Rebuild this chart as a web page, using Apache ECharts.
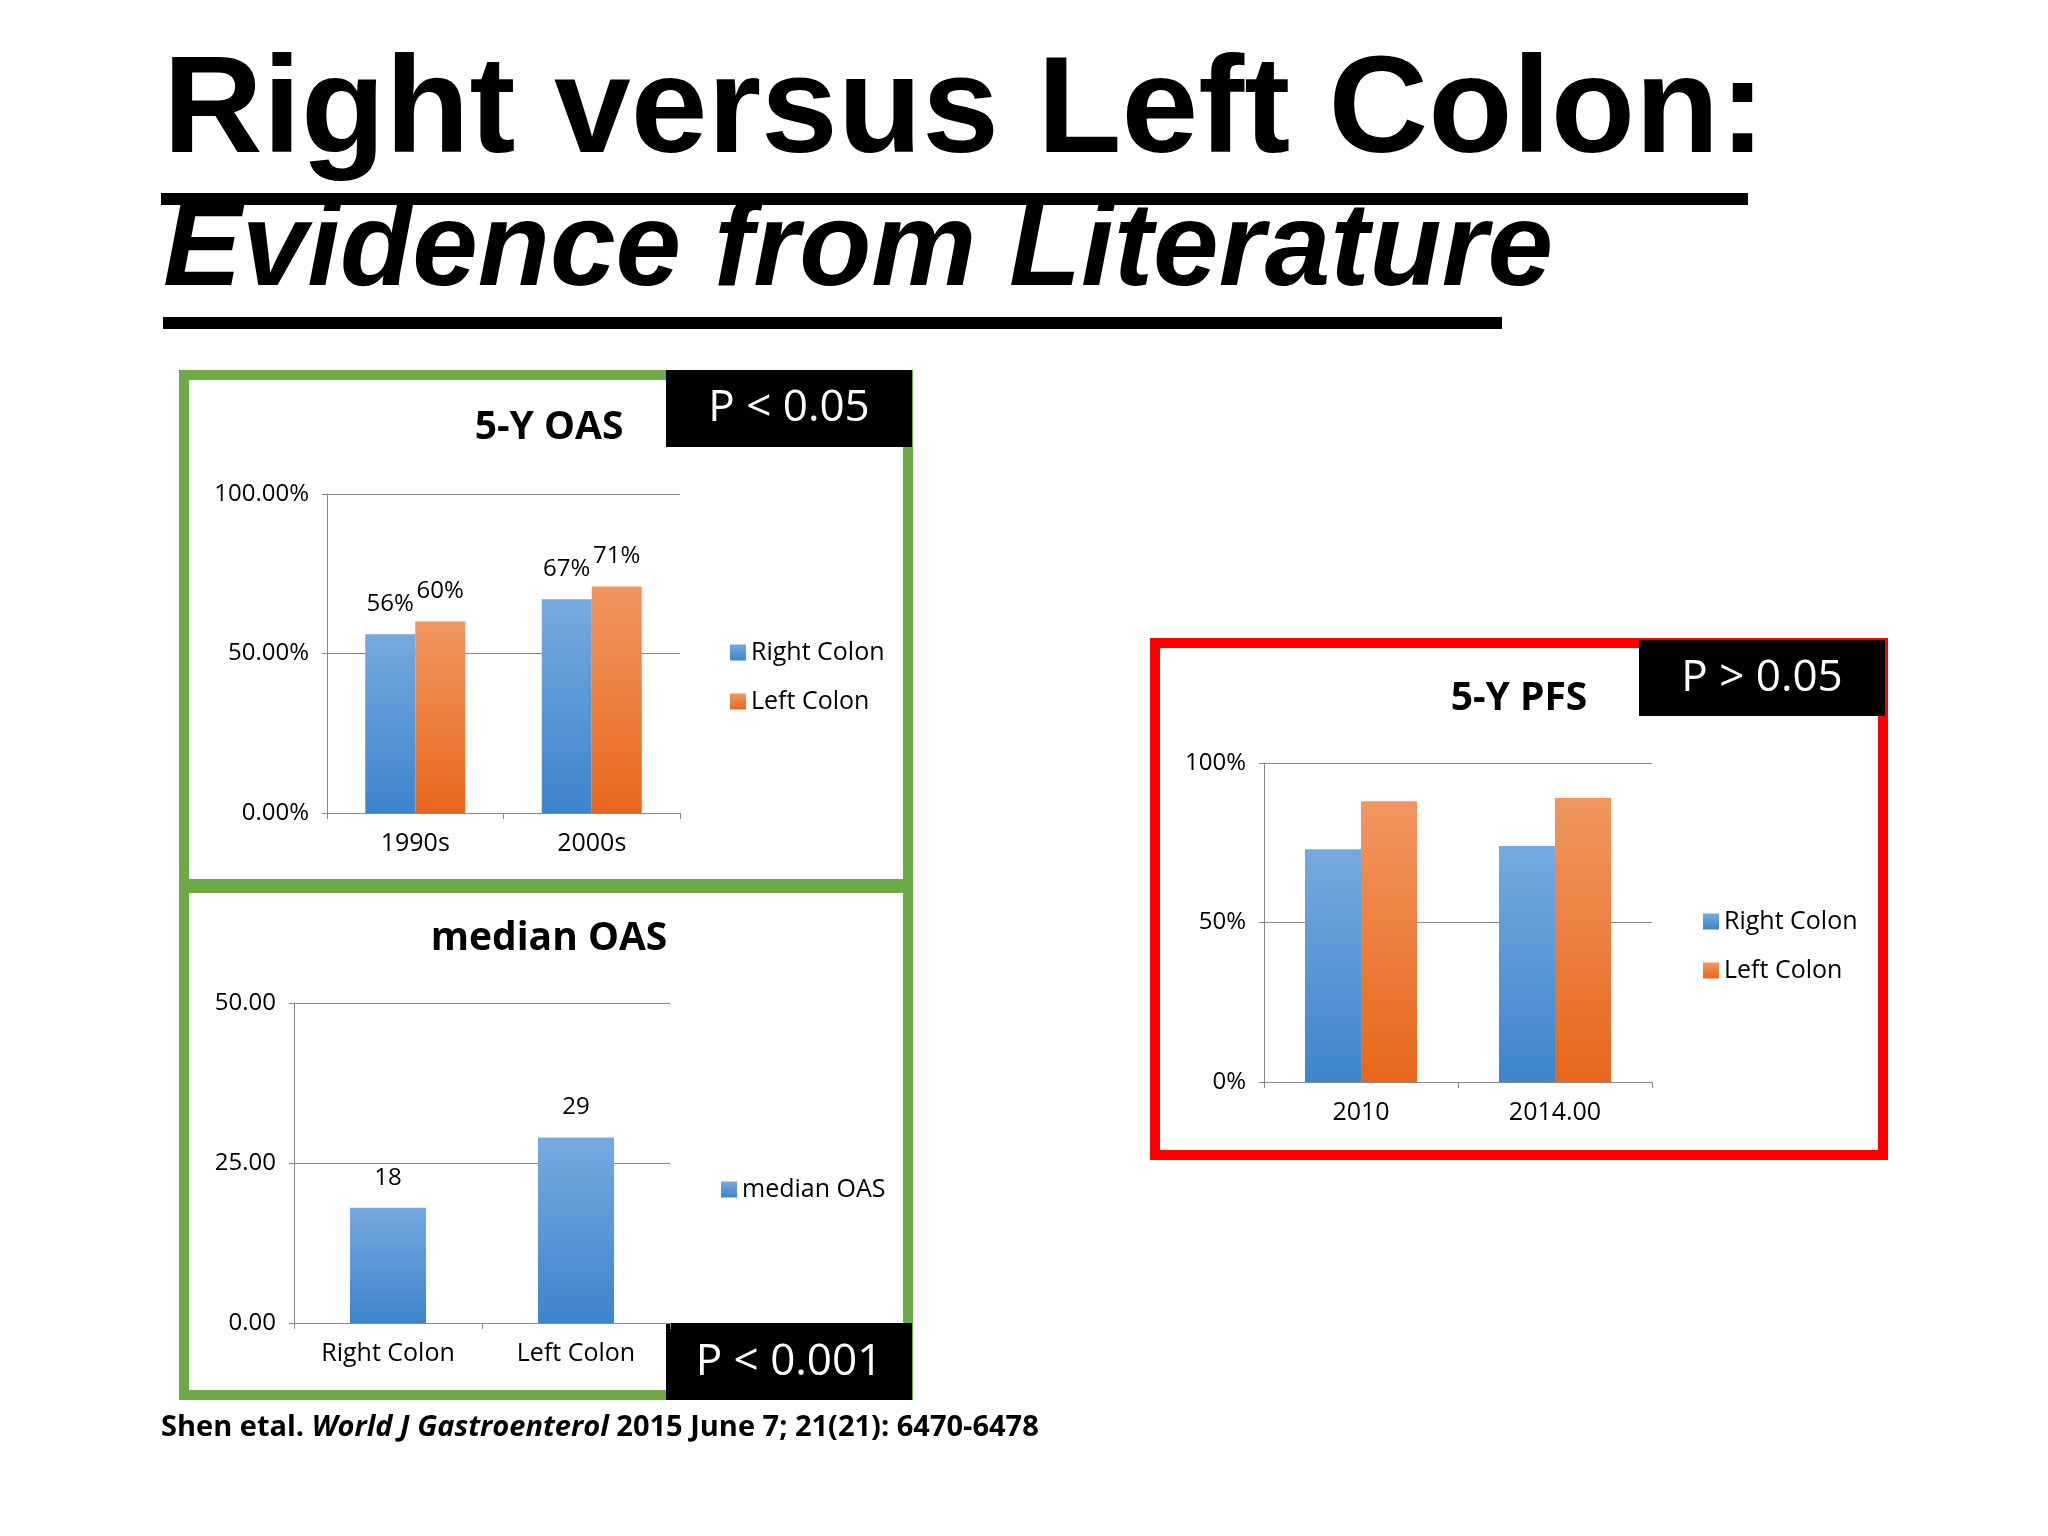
<!DOCTYPE html>
<html><head><meta charset="utf-8">
<script src="https://cdn.jsdelivr.net/npm/echarts@6/dist/echarts.min.js"></script>
<style>body{margin:0;background:#fff}#c{width:2048px;height:1536px}</style>
</head><body><div id="c"></div>
<script>
const oasCats = ['1990s', '2000s'];
const oasRight = [56, 67];
const oasLeft = [60, 71];
const medCats = ['Right Colon', 'Left Colon'];
const medVals = [18, 29];
const pfsCats = ['2010', '2014.00'];
const pfsRight = [73, 74];
const pfsLeft = [88, 89];

const s = 2048 / 1568;
function S(v) { return Math.round(v * s); }
const F = '"Open Sans", sans-serif';
const blue = new echarts.graphic.LinearGradient(0, 0, 0, 1, [{offset: 0, color: '#76a9e0'}, {offset: 1, color: '#3d85cb'}]);
const orange = new echarts.graphic.LinearGradient(0, 0, 0, 1, [{offset: 0, color: '#f19660'}, {offset: 1, color: '#e7671c'}]);

var chart = echarts.init(document.getElementById('c'));

function grid(l, r, t, b) { return {left: S(l), width: S(r - l), top: S(t), height: S(b - t)}; }
function xa(i, data) {
  return {gridIndex: i, type: 'category', data: data,
    axisLine: {lineStyle: {color: '#888'}}, axisTick: {show: true, lineStyle: {color: '#888'}, length: 6},
    axisLabel: {color: '#000', fontFamily: F, fontSize: S(19), margin: S(14)}};
}
function ya(i, max, fmt) {
  return {gridIndex: i, type: 'value', min: 0, max: max, interval: max / 2,
    axisLine: {show: true, lineStyle: {color: '#888'}}, axisTick: {show: true, lineStyle: {color: '#888'}},
    splitLine: {lineStyle: {color: '#888'}},
    axisLabel: {color: '#000', fontFamily: F, fontSize: S(18), formatter: fmt, margin: S(14)}};
}
function bar(name, data, color, i, w, lbl) {
  return {name: name, type: 'bar', xAxisIndex: i, yAxisIndex: i, data: data, barWidth: S(w), barGap: '0%',
    itemStyle: {color: color},
    label: {show: !!lbl, position: 'top', distance: S(14), color: '#000', fontFamily: F, fontSize: S(18), formatter: lbl}};
}
function legend(items, l, t) {
  return {data: items, left: S(l), top: S(t), orient: 'vertical', itemGap: S(18), itemWidth: S(12), itemHeight: S(12),
    icon: 'rect', textStyle: {fontFamily: F, fontSize: S(19), color: '#000'}};
}
function box(x1, y1, x2, y2, color) {
  return {type: 'rect', shape: {x: S(x1), y: S(y1), width: S(x2 - x1), height: S(y2 - y1)},
    style: {fill: 'none', stroke: color, lineWidth: S(8)}};
}
function tag(x1, y1, x2, y2, txt) {
  return {type: 'group', children: [
    {type: 'rect', shape: {x: S(x1), y: S(y1), width: S(x2 - x1), height: S(y2 - y1)}, style: {fill: '#000'}},
    {type: 'text', x: S((x1 + x2) / 2), y: S((y1 + y2) / 2), style: {text: txt, fill: '#fff', font: S(34) + 'px ' + F, textAlign: 'center', textVerticalAlign: 'middle'}}
  ]};
}
function txt(x, y, t, size, extra) {
  return {type: 'text', x: S(x), y: S(y), style: Object.assign({text: t, fill: '#000', font: 'bold ' + S(size) + 'px ' + F, textAlign: 'center', textVerticalAlign: 'middle'}, extra || {})};
}

var option = {
  animation: false,
  grid: [grid(250, 520, 378, 622), grid(225, 513, 768, 1013), grid(968, 1265, 584, 828)],
  xAxis: [xa(0, oasCats), xa(1, medCats), xa(2, pfsCats)],
  yAxis: [
    ya(0, 100, function (v) { return v.toFixed(2) + '%'; }),
    ya(1, 50, function (v) { return v.toFixed(2); }),
    ya(2, 100, function (v) { return v + '%'; })
  ],
  legend: [legend(['Right Colon', 'Left Colon'], 555, 486), legend(['median OAS'], 548, 897), legend(['Right Colon', 'Left Colon'], 1300, 692)],
  series: [
    bar('Right Colon', oasRight, blue, 0, 38, '{c}%'),
    bar('Left Colon', oasLeft, orange, 0, 38, '{c}%'),
    bar('median OAS', medVals, blue, 1, 58, '{c}'),
    bar('Right Colon', pfsRight, blue, 2, 43, null),
    bar('Left Colon', pfsLeft, orange, 2, 43, null)
  ],
  graphic: [
    {type: 'text', x: S(125), y: S(140), style: {text: 'Right versus Left Colon:', fill: '#000', font: 'bold ' + S(106) + 'px "Liberation Sans", Arial', textVerticalAlign: 'bottom'}},
    {type: 'rect', shape: {x: S(123), y: S(148), width: S(1215), height: S(9)}, style: {fill: '#000'}},
    {type: 'text', x: S(125), y: S(238), style: {text: 'Evidence from Literature', fill: '#000', font: 'italic bold ' + S(90) + 'px "Liberation Sans", Arial', textVerticalAlign: 'bottom'}},
    {type: 'rect', shape: {x: S(125), y: S(243), width: S(1025), height: S(9)}, style: {fill: '#000'}},
    box(141, 287, 695, 677, '#6ea947'),
    box(141, 680, 695, 1068, '#6ea947'),
    box(884, 492, 1441, 884, '#fe0000'),
    tag(510, 283, 698, 342, 'P < 0.05'),
    tag(510, 1013, 698, 1072, 'P < 0.001'),
    tag(1255, 490, 1443, 548, 'P > 0.05'),
    txt(420, 328, '5-Y OAS', 30),
    txt(420, 719, 'median OAS', 30),
    txt(1163, 535, '5-Y PFS', 30),
    {type: 'text', x: S(123), y: S(1093), style: {
      text: '{b|Shen etal. }{i|World J Gastroenterol}{b| 2015 June 7; 21(21): 6470-6478}', textVerticalAlign: 'middle',
      rich: {b: {font: 'bold ' + S(22) + 'px ' + F, fill: '#000'}, i: {font: 'italic bold ' + S(22) + 'px ' + F, fill: '#000'}}}}
  ]
};
chart.setOption(option);
</script></body></html>
